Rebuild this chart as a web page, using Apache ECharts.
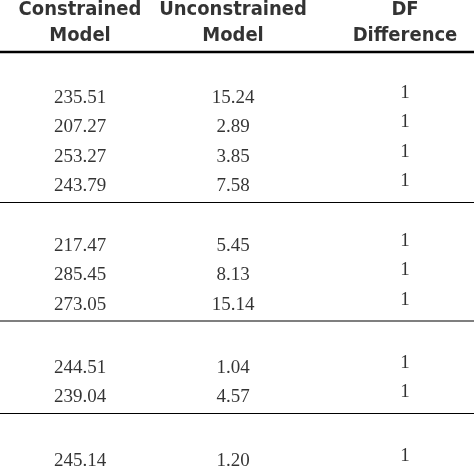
<!DOCTYPE html>
<html><head><meta charset="utf-8">
<script src="https://cdn.jsdelivr.net/npm/echarts@6/dist/echarts.min.js"></script>
<style>html,body{margin:0;padding:0;background:#fff}#c{width:474px;height:474px}</style>
</head><body><div id="c"></div>
<script>
const headers = ["Constrained\nModel", "Unconstrained\nModel", "DF\nDifference"];
const constrained = ["235.51","207.27","253.27","243.79","217.47","285.45","273.05","244.51","239.04","245.14"];
const unconstrained = ["15.24","2.89","3.85","7.58","5.45","8.13","15.14","1.04","4.57","1.20"];
const dfDiff = ["1","1","1","1","1","1","1","1","1","1"];
const groupSizes = [4, 3, 2, 1];

// layout (pixel space)
const colX = [80, 233, 405];
const rowY = [];
const sepY = [];
{
  const starts = [98, 246, 368, 461];
  groupSizes.forEach((n, g) => {
    for (let i = 0; i < n; i++) rowY.push(starts[g] + i * 29.5);
    if (g < groupSizes.length - 1) sepY.push(starts[g] + (n - 1) * 29.5 + 16);
  });
}
const cols = [constrained, unconstrained, dfDiff];
const cellData = [];
cols.forEach((col, c) => col.forEach((v, r) => cellData.push({value: [colX[c], rowY[r] - (c === 2 ? 5 : 0)], label: {formatter: v}})));
const headData = headers.map((h, c) => ({value: [colX[c], 23], label: {formatter: h}}));

const chart = echarts.init(document.getElementById('c'));
const font = "'Liberation Serif', serif";
chart.setOption({
  animation: false,
  grid: {left: 0, right: 0, top: 0, bottom: 0},
  xAxis: {type: 'value', min: 0, max: 474, show: false},
  yAxis: {type: 'value', min: 0, max: 474, inverse: true, show: false},
  series: [
    {type: 'scatter', symbolSize: 0, data: cellData, emphasis: {disabled: true},
     label: {show: true, position: 'inside', color: '#000', textBorderWidth: 0, fontFamily: font, fontSize: 19}},
    {type: 'scatter', symbolSize: 0, data: headData, emphasis: {disabled: true},
     label: {show: true, position: 'inside', color: '#000', textBorderWidth: 0,
       fontFamily: "'DejaVu Sans Condensed','Liberation Sans',sans-serif",
       fontWeight: 'bold', fontSize: 20, lineHeight: 26}},
    {type: 'line', data: [[0, 52], [474, 52]], symbol: 'none', lineStyle: {color: '#000', width: 2.5}},
    ...sepY.map(y => ({type: 'line', data: [[0, y], [474, y]], symbol: 'none', lineStyle: {color: '#000', width: 1.2}}))
  ]
});
</script></body></html>
